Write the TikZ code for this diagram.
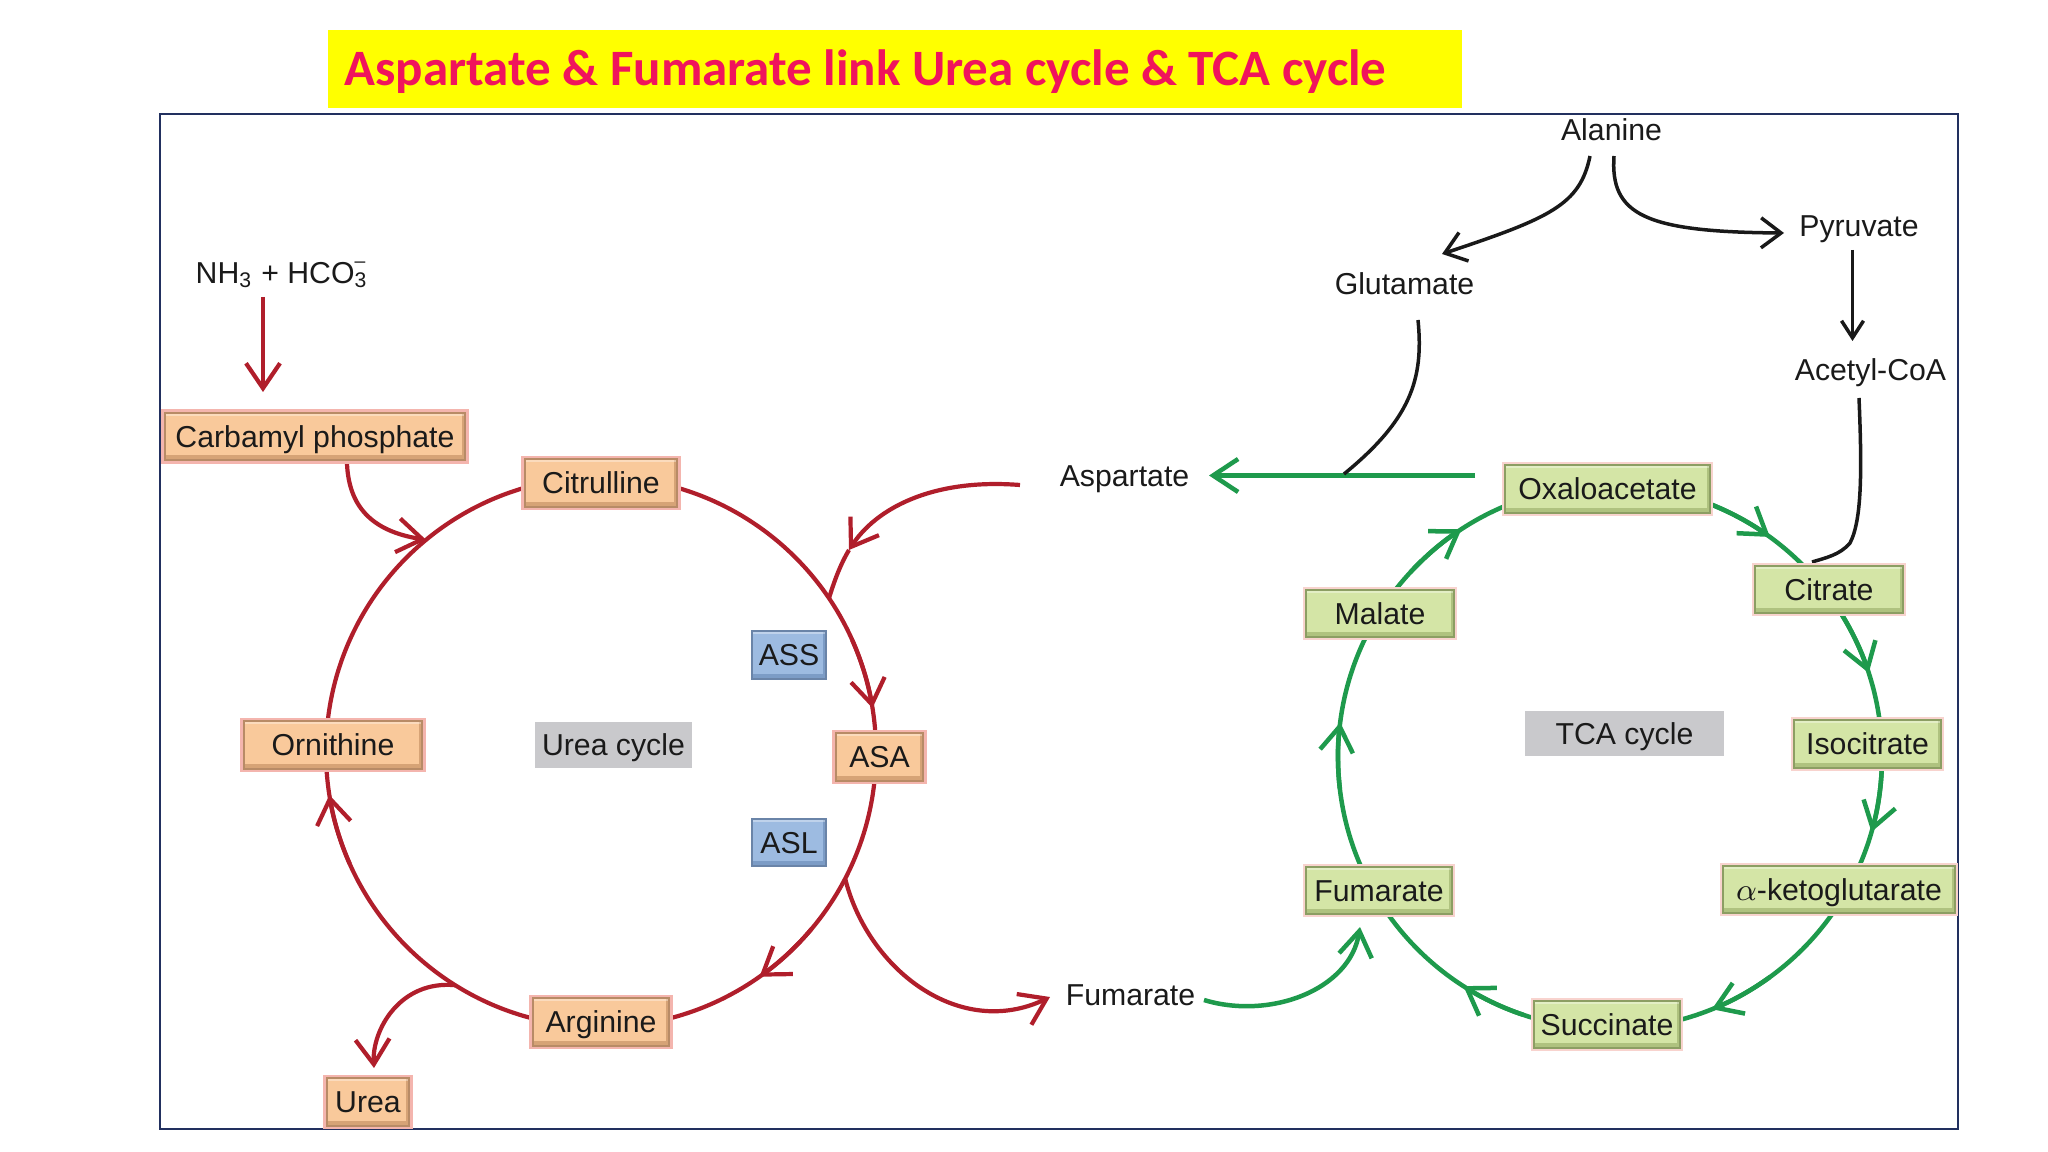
\documentclass[tikz,border=0pt]{standalone}
\usepackage{fontspec}
\setmainfont{Liberation Sans}
\newfontfamily\titlefont{Carlito}
\usetikzlibrary{arrows.meta}
\pgfdeclarelayer{back}
\pgfdeclarelayer{bg}
\pgfsetlayers{back,bg,main}

\definecolor{ured}{HTML}{B01E2B}
\definecolor{tgreen}{HTML}{1E9A4C}
\definecolor{peachfill}{HTML}{F9C99B}
\definecolor{peachdark}{HTML}{D6A376}
\definecolor{peachedge}{HTML}{B88B66}
\definecolor{peachglow}{HTML}{F4B5AE}
\definecolor{greenfill}{HTML}{D4E5A6}
\definecolor{greendark}{HTML}{AFC27F}
\definecolor{greenedge}{HTML}{8C9E63}
\definecolor{bluefill}{HTML}{9DBBE1}
\definecolor{bluedark}{HTML}{7C9CC6}
\definecolor{blueedge}{HTML}{6A84A8}
\definecolor{greyfill}{HTML}{C9C9CC}
\definecolor{framecol}{HTML}{22305F}
\definecolor{titlered}{HTML}{F0145C}
\definecolor{titleyellow}{HTML}{FFFF00}
\definecolor{txt}{HTML}{1A1A1A}

\begin{document}
\begin{tikzpicture}[x=0.01cm, y=-0.01cm,
  lab/.style={font=\fontsize{8.6}{10}\selectfont, text=txt, inner sep=0pt},
  boxbase/.style={lab, rectangle, minimum height=0.47cm, text height=0.215cm, text depth=0pt, align=center},
  bevel/.style={path picture={
      \fill[#1] ([yshift=0.05cm]path picture bounding box.south west) rectangle (path picture bounding box.south east);
      \fill[#1] (path picture bounding box.north east) rectangle ([xshift=-0.035cm]path picture bounding box.south east);
      \fill[white, opacity=0.35] ([yshift=-0.03cm]path picture bounding box.north west) rectangle (path picture bounding box.north east);
  }},
  peach/.style={boxbase, fill=peachfill, draw=peachedge, line width=0.02cm,
      preaction={draw=peachglow, line width=0.07cm}, bevel=peachdark},
  greenbox/.style={boxbase, fill=greenfill, draw=greenedge, line width=0.02cm,
      preaction={draw=peachglow!60, line width=0.06cm}, bevel=greendark},
  bluebox/.style={boxbase, fill=bluefill, draw=blueedge, line width=0.02cm, bevel=bluedark},
  greybox/.style={boxbase, fill=greyfill, minimum height=0.46cm},
  redline/.style={draw=ured, line width=0.042cm},
  redarr/.style={redline, -{Straight Barb[length=0.25cm, width=0.34cm]}},
  greenline/.style={draw=tgreen, line width=0.045cm},
  greenarr/.style={greenline, -{Straight Barb[length=0.25cm, width=0.33cm]}},
  blkline/.style={draw=black!90, line width=0.035cm},
  blkarr/.style={blkline, -{Straight Barb[length=0.2cm, width=0.3cm]}},
]
\begin{pgfonlayer}{back}
  \fill[white] (0,0) rectangle (2048,1152);
\end{pgfonlayer}
\useasboundingbox (0,0) rectangle (2048,1152);

% title
\node[fill=titleyellow, minimum width=11.34cm, minimum height=0.78cm, inner sep=0pt] (titlebox) at (895,69) {};
\node[anchor=base west, inner sep=0pt, font=\titlefont\bfseries\fontsize{14.5}{17}\selectfont, text=titlered] (title) at (344,86) {Aspartate \& Fumarate link Urea cycle \& TCA cycle};

% frame
\draw[framecol, line width=0.02cm] (160,114) rectangle (1958,1129);

% centres
\coordinate (U) at (601,752);
\coordinate (T) at (1610,757);

% urea cycle nodes
\node[peach, minimum width=3.00cm] (carb) at (315,436.5) {Carbamyl phosphate};
\node[peach, minimum width=1.52cm] (cit) at (601,483) {Citrulline};
\node[peach, minimum width=1.78cm] (orn) at (333,745) {Ornithine};
\node[peach, minimum width=0.87cm] (asa) at (879.5,757) {ASA};
\node[peach, minimum width=1.36cm] (arg) at (601,1022) {Arginine};
\node[peach, minimum width=0.82cm] (urea) at (368,1102) {Urea};
\node[bluebox, minimum width=0.74cm] (ass) at (789,655) {ASS};
\node[bluebox, minimum width=0.74cm] (asl) at (789,842.5) {ASL};
\node[greybox, minimum width=1.57cm] (ucyc) at (613.5,745) {Urea cycle};

% TCA nodes
\node[greenbox, minimum width=2.05cm] (oaa) at (1607.5,489) {Oxaloacetate};
\node[greenbox, minimum width=1.48cm] (citr) at (1829,589.5) {Citrate};
\node[greenbox, minimum width=1.47cm] (iso) at (1867.5,744) {Isocitrate};
\node[greenbox, minimum width=2.32cm] (akg) at (1839,889.5) {$\alpha$-ketoglutarate};
\node[greenbox, minimum width=1.46cm] (succ) at (1607,1024.5) {Succinate};
\node[greenbox, minimum width=1.46cm] (fumb) at (1379,890.5) {Fumarate};
\node[greenbox, minimum width=1.48cm] (mal) at (1380,613.5) {Malate};
\node[greybox, minimum width=1.99cm, minimum height=0.45cm] (tca) at (1624.5,733.5) {TCA cycle};

% free labels
\node[lab, anchor=base west] (nh3) at (195,284) {NH\textsubscript{3} + HCO\rlap{\raisebox{0.56em}{\fontsize{5.5}{6}\selectfont –}}\textsubscript{3}};
\node[lab, anchor=base] (ala) at (1611.5,141) {Alanine};
\node[lab, anchor=base] (glu) at (1404.5,295) {Glutamate};
\node[lab, anchor=base] (pyr) at (1859,237) {Pyruvate};
\node[lab, anchor=base] (acoa) at (1870.5,381) {Acetyl-CoA};
\node[lab, anchor=base] (asp) at (1124.5,487) {Aspartate};
\node[lab, anchor=base] (fum) at (1130.5,1005) {Fumarate};

% connector end points
\coordinate (nhA) at (263,297);
\coordinate (nhB) at (263,392);
\coordinate (carbA) at (347,464);
\path (U) ++(-129.5:275) coordinate (carbIn);
\coordinate (aspA) at (1020,485);
\coordinate (aspM) at (849,550);
\path (U) ++(-34:275) coordinate (aspIn);
\path (U) ++(27.4:275) coordinate (fumOut);
\coordinate (fumTip) at (1050,997);
\path (U) ++(122:275) coordinate (ureaOut);
\coordinate (ureaTip) at (374,1068);
\coordinate (gA) at (1475,475.5);
\coordinate (gB) at (1209,475.5);
\coordinate (gfA) at (1204,1000);
\coordinate (gfB) at (1360,927);
\coordinate (alaL) at (1590,156);
\coordinate (alaR) at (1614,156);
\coordinate (gluTip) at (1442,254);
\coordinate (pyrTip) at (1784,233);
\coordinate (pyrA) at (1852.5,250);
\coordinate (pyrB) at (1852.5,341);
\coordinate (acA) at (1859,398);
\coordinate (acM) at (1850,543);
\coordinate (acB) at (1812,562);
\coordinate (gluA) at (1418,320);
\coordinate (gluB) at (1344,474);

\begin{pgfonlayer}{bg}
  % urea cycle
  \draw[redline] (U) circle[radius=275];
  \draw[redarr] (U) ++(-24:275) arc[start angle=-24, end angle=-9.2, radius=275];
  \draw[redarr] (U) ++(40:275) arc[start angle=40, end angle=54.8, radius=275];
  \draw[redarr] (U) ++(156:275) arc[start angle=156, end angle=171, radius=275];
  \draw[redarr] (nhA) -- (nhB);
  \draw[redarr] (carbA) .. controls (349,505) and (370,531) .. (carbIn);
  \draw[redarr] (aspA) .. controls (930,478) and (875,510) .. (aspM);
  \draw[redline] (aspM) .. controls (840,565) and (834,582) .. (aspIn);
  \draw[redarr] (fumOut) .. controls (868,970) and (960,1040) .. (fumTip);
  \draw[redarr] (ureaOut) .. controls (400,980) and (372,1030) .. (ureaTip);
  % TCA cycle
  \draw[greenline] (T) circle[radius=272];
  \foreach \a in {-54,-18,16,68,122.6,187.3,236.9}{
    \draw[greenarr] (T) ++(\a-14:272) arc[start angle=\a-14, end angle=\a, radius=272];
  }
  \draw[greenarr] (gA) -- (gB);
  \draw[greenarr] (gfA) .. controls (1270,1020) and (1350,990) .. (gfB);
  % black
  \draw[blkarr] (alaL) .. controls (1580,205) and (1550,218) .. (gluTip);
  \draw[blkarr] (alaR) .. controls (1610,215) and (1645,232) .. (pyrTip);
  \draw[blkline, -{Straight Barb[length=0.17cm, width=0.22cm]}] (pyrA) -- (pyrB);
  \draw[blkline] (acA) .. controls (1862,470) and (1862,520) .. (acM) .. controls (1840,555) and (1825,558) .. (acB);
  \draw[blkline] (gluA) .. controls (1424,380) and (1410,420) .. (gluB);
\end{pgfonlayer}
\end{tikzpicture}
\end{document}
